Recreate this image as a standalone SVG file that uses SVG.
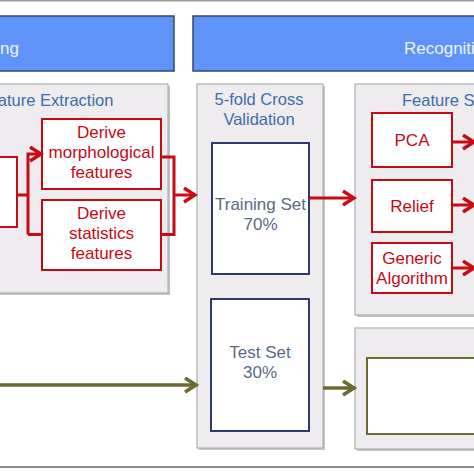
<svg xmlns="http://www.w3.org/2000/svg" width="474" height="474" viewBox="0 0 474 474">
<defs>
<marker id="ar" markerUnits="userSpaceOnUse" markerWidth="16" markerHeight="18" refX="13" refY="8" orient="auto">
<path d="M2,1 L13,8 L2,15" fill="none" stroke="#C80A14" stroke-width="3.4"/>
</marker>
<marker id="ao" markerUnits="userSpaceOnUse" markerWidth="16" markerHeight="18" refX="13" refY="8" orient="auto">
<path d="M2,1 L13,8 L2,15" fill="none" stroke="#6B6A33" stroke-width="3.6"/>
</marker>
</defs>
<style>
.banner{fill:#5F93F7;stroke:#35476B;stroke-width:1.5}
.bt{font-family:"Liberation Sans",Arial,sans-serif;font-size:17px;fill:#EEF3FF}
.panel{fill:#EEECEF;stroke:#AFAFB2;stroke-width:1.2}
.shadow{fill:#C4C4C6}
.pt{font-family:"Liberation Sans",Arial,sans-serif;font-size:16.5px;fill:#3E6DAA;text-anchor:middle}
.rb{fill:#FFFFFF;stroke:#C50A16;stroke-width:2}
.rt{font-family:"Liberation Sans",Arial,sans-serif;font-size:17px;fill:#C50A16;text-anchor:middle}
.nb{fill:#FFFFFF;stroke:#2E3B6A;stroke-width:2}
.nt{font-family:"Liberation Sans",Arial,sans-serif;font-size:17px;fill:#5B6A82;text-anchor:middle}
.ob{fill:#FFFFFF;stroke:#6B6A33;stroke-width:2}
.rl{fill:none;stroke:#C80A14;stroke-width:3}
.ol{fill:none;stroke:#6B6A33;stroke-width:3.5}
</style>
<rect width="474" height="474" fill="#FFFFFF"/>
<line x1="0" y1="0.8" x2="474" y2="0.8" stroke="#9A9A9A" stroke-width="1.5"/>
<line x1="0" y1="467" x2="474" y2="467" stroke="#8A8A8A" stroke-width="1.8"/>

<g id="banner-preprocessing">
<rect class="banner" x="-10" y="16" width="184" height="55"/>
<text class="bt" x="0" y="54">ng</text>
</g>
<g id="banner-recognition">
<rect class="banner" x="193" y="16" width="290" height="55"/>
<text class="bt" x="404" y="54">Recogniti</text>
</g>

<g id="panel-feature-extraction">
<rect class="shadow" x="-8" y="86" width="178" height="209"/>
<rect class="panel" x="-10" y="84" width="178" height="209"/>
<text class="pt" x="46" y="106">Feature Extraction</text>
</g>
<g id="panel-cross-validation">
<rect class="shadow" x="199" y="86" width="126" height="364"/>
<rect class="panel" x="197" y="84" width="126" height="364"/>
<text class="pt" x="259" y="105">5-fold Cross</text>
<text class="pt" x="259" y="125">Validation</text>
</g>
<g id="panel-feature-selection">
<rect class="shadow" x="357" y="86" width="130" height="231"/>
<rect class="panel" x="355" y="84" width="130" height="231"/>
<text class="pt" x="402" y="106" style="text-anchor:start">Feature S</text>
</g>
<g id="panel-bottom-right">
<rect class="shadow" x="357" y="330" width="130" height="121"/>
<rect class="panel" x="355" y="328" width="130" height="121"/>
</g>

<g id="node-left-partial">
<rect class="rb" x="-10" y="157" width="27" height="70"/>
</g>
<g id="node-morph">
<rect class="rb" x="42" y="119" width="119" height="70"/>
<text class="rt" x="101.5" y="138">Derive</text>
<text class="rt" x="101.5" y="158">morphological</text>
<text class="rt" x="101.5" y="178">features</text>
</g>
<g id="node-stats">
<rect class="rb" x="42" y="200" width="119" height="70"/>
<text class="rt" x="101.5" y="219">Derive</text>
<text class="rt" x="101.5" y="239">statistics</text>
<text class="rt" x="101.5" y="259">features</text>
</g>
<g id="node-training">
<rect class="nb" x="212" y="143" width="97" height="131"/>
<text class="nt" x="260.5" y="210">Training Set</text>
<text class="nt" x="260.5" y="230">70%</text>
</g>
<g id="node-test">
<rect class="nb" x="211" y="299" width="98" height="132"/>
<text class="nt" x="260" y="358">Test Set</text>
<text class="nt" x="260" y="378">30%</text>
</g>
<g id="node-pca">
<rect class="rb" x="372" y="113" width="80" height="54"/>
<text class="rt" x="412" y="146">PCA</text>
</g>
<g id="node-relief">
<rect class="rb" x="372" y="180" width="80" height="52"/>
<text class="rt" x="412" y="212">Relief</text>
</g>
<g id="node-generic">
<rect class="rb" x="372" y="243" width="80" height="50"/>
<text class="rt" x="412" y="264">Generic</text>
<text class="rt" x="412" y="284">Algorithm</text>
</g>
<g id="node-bottom-right">
<rect class="ob" x="367" y="358" width="120" height="76"/>
</g>

<g id="connectors">
<path class="rl" d="M17,195 H28"/>
<path class="rl" d="M28,234.5 V154 H41" marker-end="url(#ar)"/>
<path class="rl" d="M28,234.5 H42"/>
<path class="rl" d="M161,157 H174 V234.5 H161"/>
<path class="rl" d="M174,195 H195" marker-end="url(#ar)"/>
<path class="rl" d="M309,198 H354" marker-end="url(#ar)"/>
<path class="rl" d="M452,142 H474" marker-end="url(#ar)"/>
<path class="rl" d="M452,205 H474" marker-end="url(#ar)"/>
<path class="rl" d="M452,268 H474" marker-end="url(#ar)"/>
<path class="ol" d="M-5,385 H196" marker-end="url(#ao)"/>
<path class="ol" d="M323,388 H354" marker-end="url(#ao)"/>
</g>
</svg>
